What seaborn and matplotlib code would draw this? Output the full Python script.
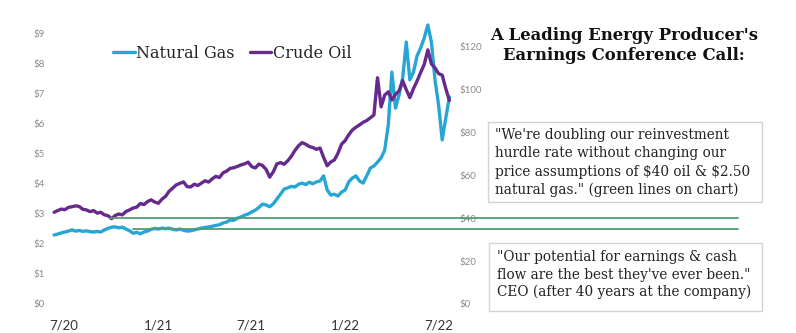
import matplotlib
matplotlib.use("Agg")
import matplotlib.pyplot as plt
from matplotlib.lines import Line2D
from matplotlib.patches import Rectangle
import matplotlib.dates as mdates
import pandas as pd
import seaborn as sns

# Weekly prices, starting mid-June 2020
START_DATE = "2020-06-12"

natural_gas = [
    2.30, 2.33, 2.37, 2.40, 2.43, 2.47, 2.43, 2.45, 2.42, 2.44,
    2.41, 2.40, 2.42, 2.40, 2.47, 2.52, 2.56, 2.57, 2.54, 2.56,
    2.50, 2.44, 2.36, 2.39, 2.34, 2.40, 2.43, 2.49, 2.52, 2.50,
    2.53, 2.51, 2.53, 2.49, 2.47, 2.50, 2.46, 2.43, 2.44, 2.47,
    2.50, 2.53, 2.55, 2.57, 2.59, 2.62, 2.64, 2.70, 2.73, 2.80,
    2.79, 2.86, 2.90, 2.96, 3.00, 3.07, 3.13, 3.22, 3.33, 3.30,
    3.24, 3.34, 3.50, 3.66, 3.83, 3.87, 3.92, 3.90, 3.99, 4.03,
    3.98, 4.06, 4.01, 4.07, 4.10, 4.27, 3.80, 3.63, 3.66, 3.60,
    3.73, 3.80, 4.07, 4.20, 4.27, 4.10, 4.03, 4.27, 4.53, 4.60,
    4.73, 4.87, 5.13, 5.97, 7.73, 6.53, 6.97, 7.53, 8.73, 7.47,
    7.73, 8.27, 8.53, 8.87, 9.30, 8.73, 7.47, 6.63, 5.47, 6.20,
    6.90,
]

crude_oil = [
    42.8, 43.6, 44.3, 44.0, 45.1, 45.4, 45.8, 45.5, 44.2, 43.9,
    43.1, 43.6, 42.4, 42.8, 41.6, 41.2, 39.8, 41.3, 42.0, 41.6,
    43.2, 43.9, 44.8, 45.2, 46.9, 46.4, 47.8, 48.6, 47.6, 47.0,
    48.9, 50.2, 52.6, 54.1, 55.6, 56.3, 57.0, 54.8, 54.6, 55.9,
    55.3, 56.4, 57.5, 56.9, 58.4, 59.6, 59.0, 61.2, 62.0, 63.3,
    63.6, 64.2, 64.9, 65.4, 66.2, 64.1, 63.5, 65.3, 64.6, 62.8,
    59.2, 61.7, 65.4, 66.0, 65.2, 66.8, 68.9, 71.6, 73.8, 75.3,
    74.6, 73.5, 73.0, 72.2, 72.8, 68.4, 64.5, 66.3, 67.2, 70.4,
    74.6, 76.3, 79.0, 81.2, 82.5, 83.6, 84.8, 85.6, 86.9, 88.2,
    105.6, 92.0, 97.5, 99.0, 95.2, 97.8, 99.5, 104.2, 100.0, 96.3,
    100.5, 104.0, 108.0, 111.8, 118.6, 112.0, 110.2, 107.5, 106.8, 100.5,
    95.0,
]

series_labels = ["Natural Gas", "Crude Oil"]

gas_ticks = list(range(0, 10))
oil_ticks = list(range(0, 121, 20))
date_ticks = ["2020-07-01", "2021-01-01", "2021-07-01", "2022-01-01", "2022-07-01"]
date_tick_labels = ["7/20", "1/21", "7/21", "1/22", "7/22"]

# Price assumptions quoted on the call
oil_hurdle = 40.0
gas_hurdle = 2.50
oil_hurdle_from = "2020-09-29"
gas_hurdle_from = "2020-11-13"

title_lines = ["A Leading Energy Producer's", "Earnings Conference Call:"]
quote_one = [
    "\"We're doubling our reinvestment",
    "hurdle rate without changing our",
    "price assumptions of $40 oil & $2.50",
    "natural gas.\" (green lines on chart)",
]
quote_two = [
    "\"Our potential for earnings & cash",
    "flow are the best they've ever been.\"",
    "CEO (after 40 years at the company)",
]

GAS_COLOR = "#27a5d5"
OIL_COLOR = "#652a8c"
HURDLE_COLOR = "#4f9d72"
SERIF = "DejaVu Serif"

sns.set_theme(style="white")
plt.rcParams["font.family"] = ["DejaVu Sans"]

dates = pd.date_range(START_DATE, periods=len(natural_gas), freq="7D")
prices = pd.DataFrame({"date": dates, series_labels[0]: natural_gas,
                       series_labels[1]: crude_oil})

fig = plt.figure(figsize=(7.96, 3.33), dpi=100)
W, H = 796, 333


def fx(px):
    return px / W


def fy(py):
    return 1 - py / H


ax = fig.add_axes([fx(50), fy(304), fx(454) - fx(50), fy(4) - fy(304)])
ax2 = ax.twinx()

sns.lineplot(data=prices, x="date", y=series_labels[0], ax=ax,
             color=GAS_COLOR, linewidth=2.4)
sns.lineplot(data=prices, x="date", y=series_labels[1], ax=ax2,
             color=OIL_COLOR, linewidth=2.4)

x0, x1 = pd.Timestamp("2020-06-04"), pd.Timestamp("2022-07-31")
ax.set_xlim(x0, x1)
ax.set_ylim(0, 10)
ax2.set_ylim(0, 140)

ax.set_yticks(gas_ticks)
ax.set_yticklabels([f"${v}" for v in gas_ticks])
ax2.set_yticks(oil_ticks)
ax2.set_yticklabels([f"${v}" for v in oil_ticks])
ax.set_xticks(pd.to_datetime(date_ticks))
ax.set_xticklabels(date_tick_labels)

for a in (ax, ax2):
    a.set_xlabel("")
    a.set_ylabel("")
    for s in a.spines.values():
        s.set_visible(False)
    a.tick_params(axis="y", length=0, pad=4, labelsize=7, labelcolor="#8a8a8a")
    for lab in a.get_yticklabels():
        lab.set_family("Lato")
ax.tick_params(axis="x", length=0, pad=11, labelsize=9.5, labelcolor="#333333")
for lab in ax.get_xticklabels():
    lab.set_family("Lato")

# Hurdle lines run from the chart out under the quote boxes
xnum0, xnum1 = mdates.date2num(x0), mdates.date2num(x1)
frac = (fx(738) - fx(50)) / (fx(454) - fx(50))
x_end = xnum0 + frac * (xnum1 - xnum0)
ax2.plot([mdates.date2num(pd.Timestamp(oil_hurdle_from)), x_end],
         [oil_hurdle, oil_hurdle], color=HURDLE_COLOR, lw=1.3,
         clip_on=False, zorder=5)
ax.plot([mdates.date2num(pd.Timestamp(gas_hurdle_from)), x_end],
        [gas_hurdle, gas_hurdle], color=HURDLE_COLOR, lw=1.3,
        clip_on=False, zorder=5)

# Legend
handles = [Line2D([], [], color=GAS_COLOR, lw=2.4),
           Line2D([], [], color=OIL_COLOR, lw=2.4)]
fig.legend(handles, series_labels, loc="center left",
           bbox_to_anchor=(fx(113), fy(53)), ncol=2, frameon=False,
           prop={"family": SERIF, "size": 11.5}, handlelength=1.35,
           handletextpad=0.1, columnspacing=0.95, borderpad=0,
           borderaxespad=0)

# Title
for i, line in enumerate(title_lines):
    fig.text(fx(624), fy(35 + 20 * i), line, ha="center", va="center",
             family=SERIF, fontweight="bold", size=11.9, color="#111111")

# Quote boxes
fig.add_artist(Rectangle((fx(488), fy(202)), fx(762) - fx(488), fy(122) - fy(202),
                         transform=fig.transFigure, fill=False,
                         ec="#d3d3d3", lw=1))
for i, line in enumerate(quote_one):
    fig.text(fx(495), fy(135 + 18.4 * i), line, ha="left", va="center",
             family=SERIF, size=9.8, color="#222222", parse_math=False)

fig.add_artist(Rectangle((fx(489), fy(311)), fx(762) - fx(489), fy(243) - fy(311),
                         transform=fig.transFigure, fill=False,
                         ec="#d3d3d3", lw=1))
for i, line in enumerate(quote_two):
    fig.text(fx(497), fy(257 + 17.6 * i), line, ha="left", va="center",
             family=SERIF, size=9.8, color="#222222", parse_math=False)

fig.savefig("out.png", dpi=100, facecolor="white")
